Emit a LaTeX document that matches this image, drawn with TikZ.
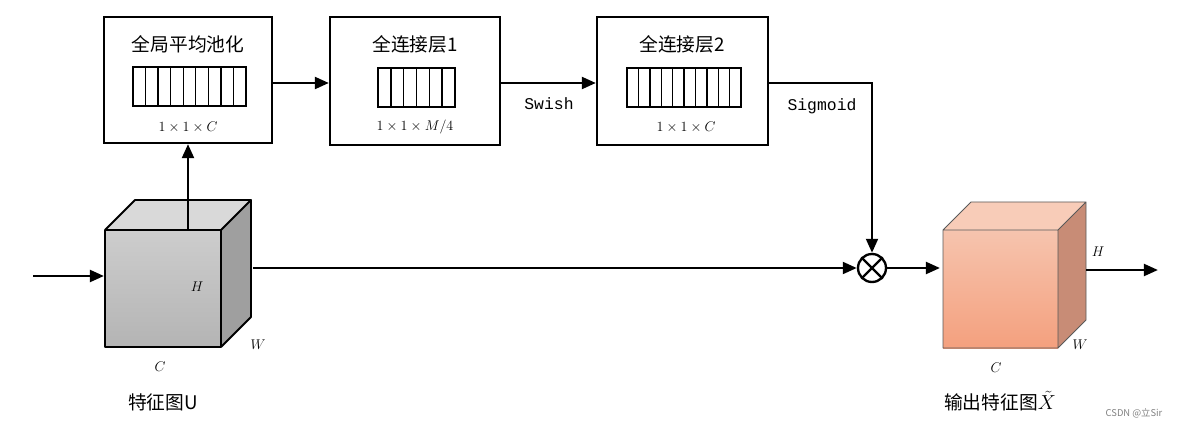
\documentclass[tikz,border=0pt]{standalone}
\usepackage{fontspec}
\setmainfont{Liberation Serif}
\newfontfamily\cjk{Noto Sans CJK SC}
\newfontfamily\monof{Liberation Mono}
\usetikzlibrary{arrows.meta}
\begin{document}
\begin{tikzpicture}[x=0.03cm,y=-0.03cm,
  blk/.style={draw,line width=1.8pt},
  arr/.style={line width=2.4pt,-{Triangle[length=12pt,width=10pt]}},
  lbl/.style={font=\cjk\fontsize{16}{18}\selectfont},
  dim/.style={font=\fontsize{13}{15}\selectfont},
  mono/.style={font=\monof\fontsize{14}{16}\selectfont}]
\useasboundingbox (0,0) rectangle (1182,427);
% boxes
\node[blk,minimum width=168*0.03cm,minimum height=126*0.03cm] (b1) at (188,80) {};
\node[blk,minimum width=170*0.03cm,minimum height=128*0.03cm] (b2) at (415,81) {};
\node[blk,minimum width=171*0.03cm,minimum height=128*0.03cm] (b3) at (682.5,81) {};
\node[lbl] (t1) at (188,44) {全局平均池化};
\node[lbl] (t2) at (415,44) {全连接层1};
\node[lbl] (t3) at (682,44) {全连接层2};
\node[dim] (d1) at (188,127) {$1\times1\times C$};
\node[dim] (d2) at (415,127) {$1\times1\times M/4$};
\node[dim] (d3) at (686,127) {$1\times1\times C$};
% bars
\draw[line width=1.2pt] (133,67) rectangle (246,106);
\foreach \i in {1,...,8} \draw[line width=1.2pt] ({133+\i*113/9},67) -- ({133+\i*113/9},106);
\draw[line width=1.2pt] (378,68) rectangle (455,107);
\foreach \i in {1,...,5} \draw[line width=1.2pt] ({378+\i*77/6},68) -- ({378+\i*77/6},107);
\draw[line width=1.2pt] (627,68) rectangle (741,107);
\foreach \i in {1,...,9} \draw[line width=1.2pt] ({627+\i*114/10},68) -- ({627+\i*114/10},107);
% left cube
\shade[top color={rgb,255:red,205;green,205;blue,205},bottom color={rgb,255:red,180;green,180;blue,180}] (105,230) rectangle (221,347);
\fill[gray!30] (105,230) -- (135,200) -- (251,200) -- (221,230) -- cycle;
\fill[gray!75] (221,230) -- (251,200) -- (251,317) -- (221,347) -- cycle;
\draw[line width=1.6pt,line join=round] (105,230) rectangle (221,347) (105,230) -- (135,200) -- (251,200) -- (221,230) (251,200) -- (251,317) -- (221,347);
\coordinate (cl) at (104,276);
\coordinate (ct) at (188,229);
\coordinate (cr) at (253,268);
% right cube
\shade[top color={rgb,255:red,246;green,196;blue,174},bottom color={rgb,255:red,244;green,160;blue,126}] (943,230) rectangle (1058,348);
\fill[fill={rgb,255:red,248;green,204;blue,184}] (943,230) -- (971,202) -- (1086,202) -- (1058,230) -- cycle;
\fill[fill={rgb,255:red,200;green,140;blue,118}] (1058,230) -- (1086,202) -- (1086,320) -- (1058,348) -- cycle;
\draw[line width=0.8pt,gray!70!black,line join=round] (943,230) rectangle (1058,348) (943,230) -- (971,202) -- (1086,202) -- (1058,230) (1086,202) -- (1086,320) -- (1058,348);
\coordinate (rl) at (940,268);
\coordinate (rr) at (1086,270);
\coordinate (out) at (1158,270);
\coordinate (in) at (33,276);
% multiply
\node[draw,circle,line width=2pt,minimum size=28*0.03cm,inner sep=0] (m) at (872,268) {};
\draw[line width=2pt] (m.45) -- (m.225) (m.135) -- (m.315);
% connectors
\draw[arr] (in) -- (cl);
\draw[arr] (ct) -- (b1.south);
\draw[arr] (b1.east|-0,83) -- (b2.west|-0,83);
\draw[arr] (b2.east|-0,83) -- (b3.west|-0,83);
\draw[arr] (b3.east|-0,83) -| (m.north);
\draw[arr] (cr) -- (m.west);
\draw[arr] (m.east) -- (rl);
\draw[arr] (rr) -- (out);
\node[mono] at (549,104) {Swish};
\node[mono] at (822,106) {Sigmoid};
% labels
\node[dim] at (197,287) {$H$};
\node[dim] at (258,345) {$W$};
\node[dim] at (160,367) {$C$};
\node[lbl] at (163,402) {特征图U};
\node[dim] at (1098,252) {$H$};
\node[dim] at (1080,345) {$W$};
\node[dim] at (996,368) {$C$};
\node[lbl] at (1000,401) {输出特征图$\tilde X$};
\node[font=\cjk\fontsize{8}{9}\selectfont,gray] at (1134,413) {CSDN @立Sir};
\end{tikzpicture}
\end{document}
